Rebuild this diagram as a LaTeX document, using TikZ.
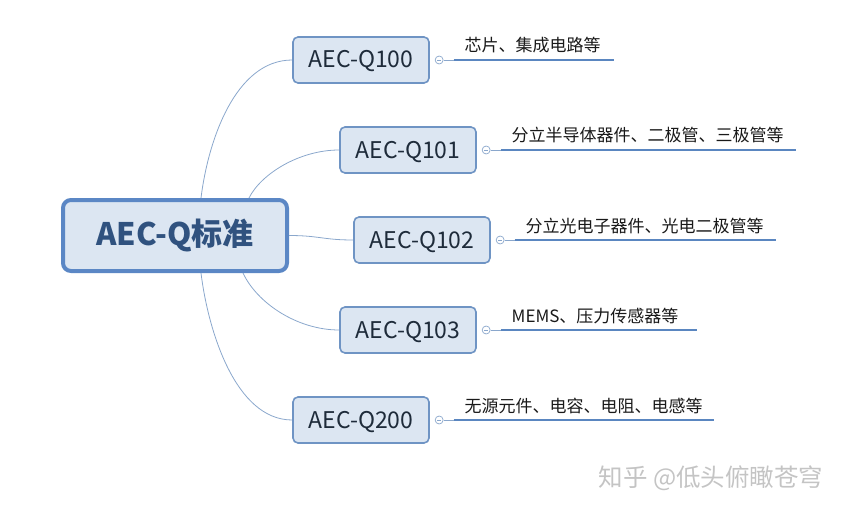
\documentclass[tikz,border=0pt]{standalone}
\usepackage{fontspec}
\setmainfont{Noto Sans CJK SC}
\definecolor{cfill}{HTML}{DCE6F2}
\definecolor{cborder}{HTML}{5B87C5}
\definecolor{ctext}{HTML}{30527F}
\definecolor{kborder}{HTML}{6F94C4}
\definecolor{ktext}{HTML}{1E2B3A}
\definecolor{connc}{HTML}{8AA7CC}
\definecolor{linec}{HTML}{5A86C0}
\definecolor{wmc}{HTML}{C4C4C4}
\tikzset{
  centerbox/.style={draw=cborder, fill=cfill, line width=4pt, rounded corners=8pt,
    minimum width=224pt, minimum height=71pt, inner sep=0pt, text=ctext,
    font=\fontsize{31}{35}\selectfont\bfseries},
  childbox/.style={draw=kborder, fill=cfill, line width=1.6pt, rounded corners=5pt,
    minimum width=136pt, minimum height=46pt, inner sep=0pt, text=ktext,
    text height=17pt, text depth=1pt,
    font=\fontsize{23}{27}\selectfont},
  conn/.style={draw=connc, line width=0.8pt},
  collapse/.style={circle, draw=connc, line width=0.7pt, fill=white, minimum size=8pt, inner sep=0pt,
    path picture={\draw[connc, line width=0.6pt] ([xshift=-2pt]path picture bounding box.center) -- ([xshift=2pt]path picture bounding box.center);}},
  thinlink/.style={draw=connc, line width=0.8pt},
  underline/.style={draw=linec, line width=2.6pt},
  desc/.style={anchor=base west, inner sep=0pt, text=black!90, font=\fontsize{17}{20}\selectfont},
  wm/.style={text=wmc, font=\fontsize{24.5}{28}\selectfont, inner sep=0pt}
}
\begin{document}
\begin{tikzpicture}[x=1pt,y=-1pt]
\useasboundingbox (0,0) rectangle (847,511);

\node[centerbox] (C) at (175,235.5) {AEC-Q标准};

\node[childbox] (Q100) at (361,60) {AEC-Q100};
\node[childbox] (Q101) at (408,150) {AEC-Q101};
\node[childbox] (Q102) at (422,240) {AEC-Q102};
\node[childbox] (Q103) at (408,330) {AEC-Q103};
\node[childbox] (Q200) at (361,420) {AEC-Q200};

% connectors
\draw[conn] ([xshift=26pt]C.north) .. controls +(7,-57) and +(-57,0) .. (Q100.west);
\draw[conn] ([xshift=74pt]C.north) .. controls +(12,-24) and +(-40,0) .. (Q101.west);
\draw[conn] (C.east) .. controls +(30,0) and +(-30,0) .. (Q102.west);
\draw[conn] ([xshift=68pt]C.south) .. controls +(14,30) and +(-42,0) .. (Q103.west);
\draw[conn] ([xshift=26pt]C.south) .. controls +(7,57) and +(-57,0) .. (Q200.west);

% collapse markers, links, underlines, descriptions
\foreach \n/\len/\txt in {Q100/160/{芯片、集成电路等},
                          Q101/295/{分立半导体器件、二极管、三极管等},
                          Q102/261/{分立光电子器件、光电二极管等},
                          Q103/196/{MEMS、压力传感器等},
                          Q200/260/{无源元件、电容、电阻、电感等}}{
  \node[collapse, anchor=west] (k\n) at ([xshift=5pt]\n.east) {};
  \draw[thinlink] (k\n.east) -- ++(10,0) coordinate (a\n);
  \draw[underline] (a\n) -- ++(\len,0) coordinate (e\n);
  \node[desc] (d\n) at ([xshift=11pt,yshift=8pt]a\n) {\txt};
}

\node[wm] (W) at (711,478) {知乎 @低头俯瞰苍穹};
\end{tikzpicture}
\end{document}
